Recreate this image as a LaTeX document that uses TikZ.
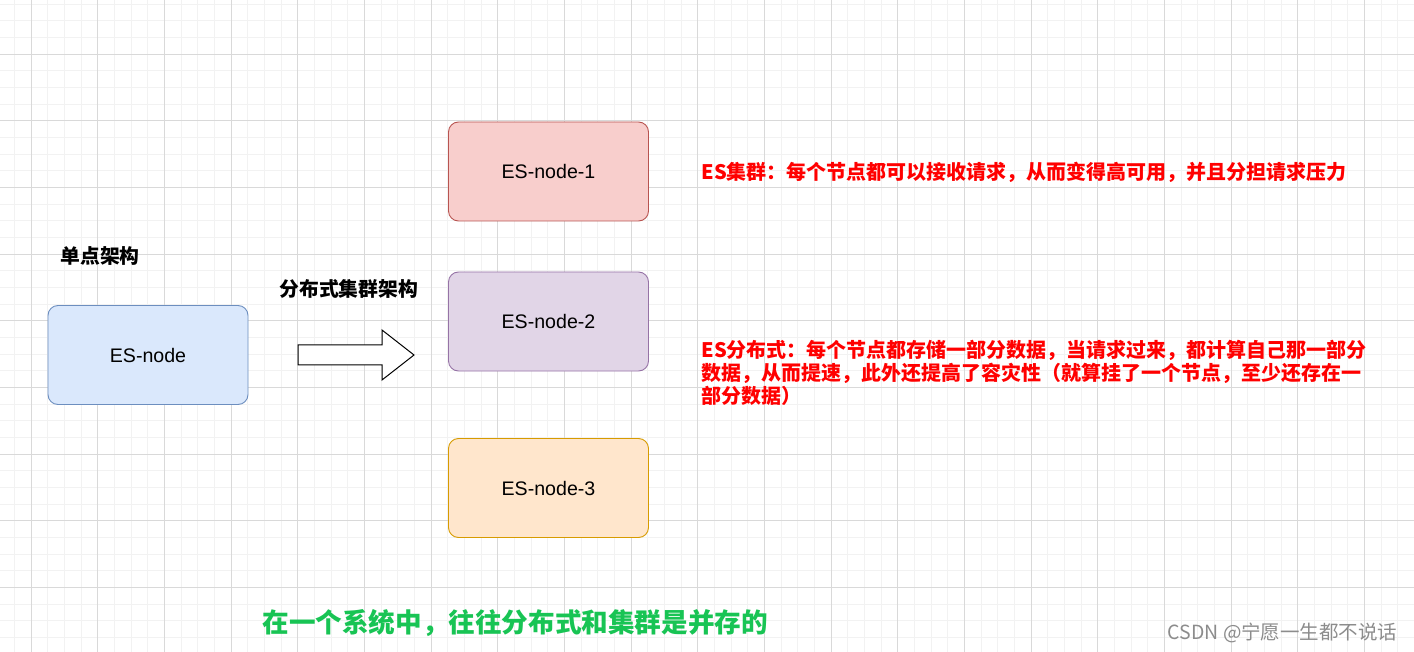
\documentclass[tikz,border=0pt]{standalone}
\usepackage{fontspec}
\setmainfont{Liberation Sans}
\newfontfamily\cjk{Noto Sans CJK SC}
\usetikzlibrary{shapes.arrows}
\begin{document}
\begin{tikzpicture}[x=1pt,y=-1pt,
  esbox/.style={draw,rounded corners=10pt,minimum width=200pt,minimum height=99pt,line width=0.9pt,font=\fontsize{19.6}{22}\selectfont},
  red/.style={text=red,font=\cjk\bfseries\fontsize{20}{23}\selectfont,anchor=west,align=left},
  lbl/.style={font=\cjk\bfseries\fontsize{19.8}{22}\selectfont,anchor=west}]
\useasboundingbox (0,0) rectangle (1414,652);
\fill[white] (0,0) rectangle (1414,652);
\foreach \i in {-1,...,84} \draw[black!5,line width=0.8pt] ({31+\i*66.67/4},0) -- ++(0,652);
\foreach \i in {-4,...,39} \draw[black!5,line width=0.8pt] (0,{54+\i*66.67/4}) -- ++(1414,0);
\foreach \i in {0,...,21} \draw[black!15,line width=0.8pt] ({31+\i*66.67},0) -- ++(0,652);
\foreach \i in {-1,...,9} \draw[black!15,line width=0.8pt] (0,{54+\i*66.67}) -- ++(1414,0);
\definecolor{bf}{HTML}{DAE8FC}\definecolor{bs}{HTML}{6C8EBF}
\definecolor{rf}{HTML}{F8CECC}\definecolor{rs}{HTML}{B85450}
\definecolor{pf}{HTML}{E1D5E7}\definecolor{ps}{HTML}{9673A6}
\definecolor{of}{HTML}{FFE6CC}\definecolor{os}{HTML}{D79B00}
\node[esbox,fill=bf,draw=bs] (es) at (148,355) {ES-node};
\node[esbox,fill=rf,draw=rs] (n1) at (548.5,171.5) {ES-node-1};
\node[esbox,fill=pf,draw=ps] (n2) at (548.5,321.5) {ES-node-2};
\node[esbox,fill=of,draw=os] (n3) at (548.5,488) {ES-node-3};
\node[lbl] (t1) at (57,256) {单点架构};
\node[lbl] (t2) at (276,289) {分布式集群架构};
\draw[line width=1pt,fill=white] (298,345) -- (382,345) -- (382,330) -- (414,355) -- (382,380) -- (382,365) -- (298,365) -- cycle;
\node[red] (r1) at (698,172) {ES集群：每个节点都可以接收请求，从而变得高可用，并且分担请求压力};
\node[red] (r2) at (698,373) {ES分布式：每个节点都存储一部分数据，当请求过来，都计算自己那一部分\\数据，从而提速，此外还提高了容灾性（就算挂了一个节点，至少还存在一\\部分数据）};
\node[font=\cjk\bfseries\fontsize{26.6}{30}\selectfont,text={rgb,255:red,24;green,196;blue,84},anchor=west] (g) at (259,623) {在一个系统中，往往分布式和集群是并存的};
\node[font=\cjk\fontsize{19.5}{22}\selectfont,text=black!45,anchor=east] (w) at (1401,633) {CSDN @宁愿一生都不说话};
\end{tikzpicture}
\end{document}
